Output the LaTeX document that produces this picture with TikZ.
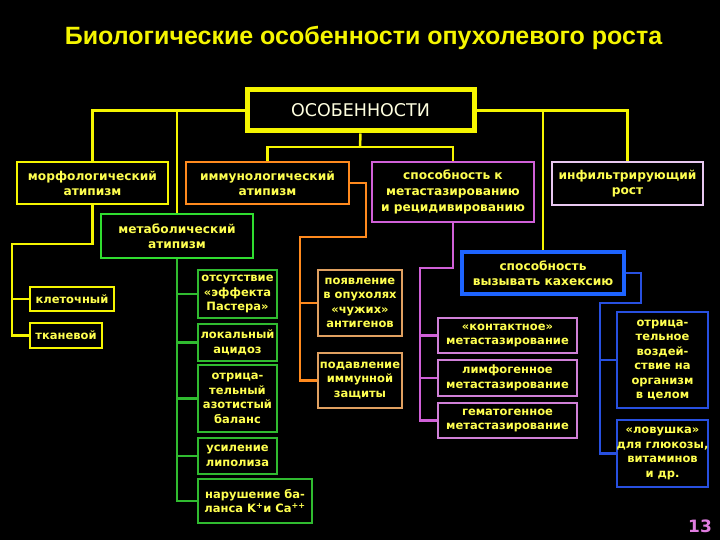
\documentclass[tikz,border=0pt]{standalone}
\usepackage{fontspec}
\setmainfont{DejaVu Sans}
\newfontfamily\titlefont{Liberation Sans}
\definecolor{ylw}{HTML}{F5F500}
\definecolor{txt}{HTML}{FFFF50}
\definecolor{org}{HTML}{FF8A1E}
\definecolor{orgl}{HTML}{E0A060}
\definecolor{vio}{HTML}{D060D8}
\definecolor{viol}{HTML}{D080D8}
\definecolor{lav}{HTML}{E8C8F0}
\definecolor{grn}{HTML}{30DD30}
\definecolor{grnl}{HTML}{30BB30}
\definecolor{blu}{HTML}{1E64FF}
\definecolor{blul}{HTML}{2850E0}
\definecolor{pnk}{HTML}{E07CE0}
\definecolor{cream}{HTML}{FFFFE0}
\begin{document}
\begin{tikzpicture}[x=1pt,y=-1pt,
  box/.style={draw, line width=2pt, fill=black, text=txt, align=center, inner sep=0pt,
    font=\bfseries\fontsize{11.5}{14.5}\selectfont},
  bigbox/.style={box, font=\bfseries\fontsize{12.2}{15}\selectfont},
  conn/.style={line width=2.5pt}]
\fill[black] (0,0) rectangle (720,540);
\useasboundingbox (0,0) rectangle (720,540);

% title
\node[anchor=base, text=ylw, font=\titlefont\bfseries\fontsize{25}{30}\selectfont] (title) at (363.5,45) {Биологические особенности опухолевого роста};

% top box
\node[draw=ylw, line width=5pt, fill=black, minimum width=227pt, minimum height=41pt, inner sep=0pt, text=cream, font=\fontsize{17.5}{20}\selectfont] (osob) at (360.5,110.5) {ОСОБЕННОСТИ};

% level 1
\node[bigbox, draw=ylw, minimum width=151pt, minimum height=42pt] (morfo) at (92.5,183) {морфологический\\атипизм};
\node[bigbox, draw=org, minimum width=163pt, minimum height=42pt] (immuno) at (267.5,183) {иммунологический\\атипизм};
\node[bigbox, draw=vio, minimum width=162pt, minimum height=60pt, font=\bfseries\fontsize{12.2}{16}\selectfont] (metast) at (453,192) {способность к\\метастазированию\\и рецидивированию};
\node[bigbox, draw=lav, minimum width=151pt, minimum height=43pt] (infilt) at (627.5,183.5) {инфильтрирующий\\рост};
\node[bigbox, draw=grn, line width=2.5pt, minimum width=152pt, minimum height=44pt] (metab) at (177,236) {метаболический\\атипизм};
\node[bigbox, draw=blu, line width=3.5pt, minimum width=162pt, minimum height=42pt] (kachex) at (543,273) {способность\\вызывать кахексию};

% morfo children
\node[box, draw=ylw, minimum width=84pt, minimum height=24pt] (klet) at (72,299) {клеточный};
\node[box, draw=ylw, minimum width=72pt, minimum height=25pt] (tkan) at (66,335.5) {тканевой};

% metab children
\node[box, draw=grnl, minimum width=79pt, minimum height=48pt] (otsut) at (237.5,294) {отсутствие\\«эффекта\\Пастера»};
\node[box, draw=grnl, minimum width=79pt, minimum height=37pt] (lokal) at (237.5,342.5) {локальный\\ацидоз};
\node[box, draw=grnl, minimum width=79pt, minimum height=67pt] (otric) at (237.5,398.5) {отрица-\\тельный\\азотистый\\баланс};
\node[box, draw=grnl, minimum width=79pt, minimum height=36pt] (usil) at (237.5,456) {усиление\\липолиза};
\node[box, draw=grnl, minimum width=114pt, minimum height=44pt] (narush) at (255,501) {нарушение ба-\\ланса K\textsuperscript{+}и Ca\textsuperscript{++}};

% immuno children
\node[box, draw=orgl, minimum width=84pt, minimum height=66pt] (poyav) at (360,303) {появление\\в опухолях\\«чужих»\\антигенов};
\node[box, draw=orgl, minimum width=84pt, minimum height=55pt] (podav) at (360,380.5) {подавление\\иммунной\\защиты};

% metast children
\node[box, draw=viol, minimum width=139pt, minimum height=35pt] (kont) at (507.5,335.5) {«контактное»\\метастазирование};
\node[box, draw=viol, minimum width=139pt, minimum height=36pt] (limfo) at (507.5,378) {лимфогенное\\метастазирование};
\node[box, draw=viol, minimum width=139pt, minimum height=35pt] (gemat) at (507.5,420.5) {гематогенное\\метастазирование};

% kachex children
\node[box, draw=blul, minimum width=91pt, minimum height=96pt] (otrB) at (662.5,360) {отрица-\\тельное\\воздей-\\ствие на\\организм\\в целом};
\node[box, draw=blul, minimum width=91pt, minimum height=67pt] (lov) at (662.5,453.5) {«ловушка»\\для глюкозы,\\витаминов\\и др.};

% page number
\node[text=pnk, font=\bfseries\fontsize{17}{20}\selectfont] (num) at (700,526) {13};

% connectors: yellow
\coordinate (bus) at (360,147);
\coordinate (mL) at (12,244);
\draw[conn, ylw] (osob.west) -| (morfo.north);
\draw[conn, ylw] (osob.west -| metab.north) -- (metab.north);
\draw[conn, ylw] (osob.east) -| (infilt.north);
\draw[conn, ylw] (osob.east -| kachex.north) -- (kachex.north);
\draw[conn, ylw] (osob.south) -- (bus);
\draw[conn, ylw] (immuno.north) |- (bus) -| (metast.north);
\draw[conn, ylw] (morfo.south) |- (mL) |- (tkan.west);
\draw[conn, ylw] (mL |- klet.west) -- (klet.west);

% green
\draw[conn, grnl] (metab.south) |- (narush.west);
\draw[conn, grnl] (metab.south |- otsut.west) -- (otsut.west);
\draw[conn, grnl] (metab.south |- lokal.west) -- (lokal.west);
\draw[conn, grnl] (metab.south |- otric.west) -- (otric.west);
\draw[conn, grnl] (metab.south |- usil.west) -- (usil.west);

% orange
\coordinate (o1) at (366,237);
\coordinate (o2) at (300,237);
\draw[conn, org] (immuno.east) -| (o1) -- (o2) |- (podav.west);
\draw[conn, org] (o2 |- poyav.west) -- (poyav.west);

% violet
\coordinate (v1) at (420,268);
\draw[conn, vio] (metast.south) |- (v1) |- (gemat.west);
\draw[conn, vio] (v1 |- kont.west) -- (kont.west);
\draw[conn, vio] (v1 |- limfo.west) -- (limfo.west);

% blue
\coordinate (b1) at (641,303);
\coordinate (b2) at (600,303);
\draw[conn, blul] (kachex.east) -| (b1) -- (b2) |- (lov.west);
\draw[conn, blul] (b2 |- otrB.west) -- (otrB.west);
\end{tikzpicture}
\end{document}
